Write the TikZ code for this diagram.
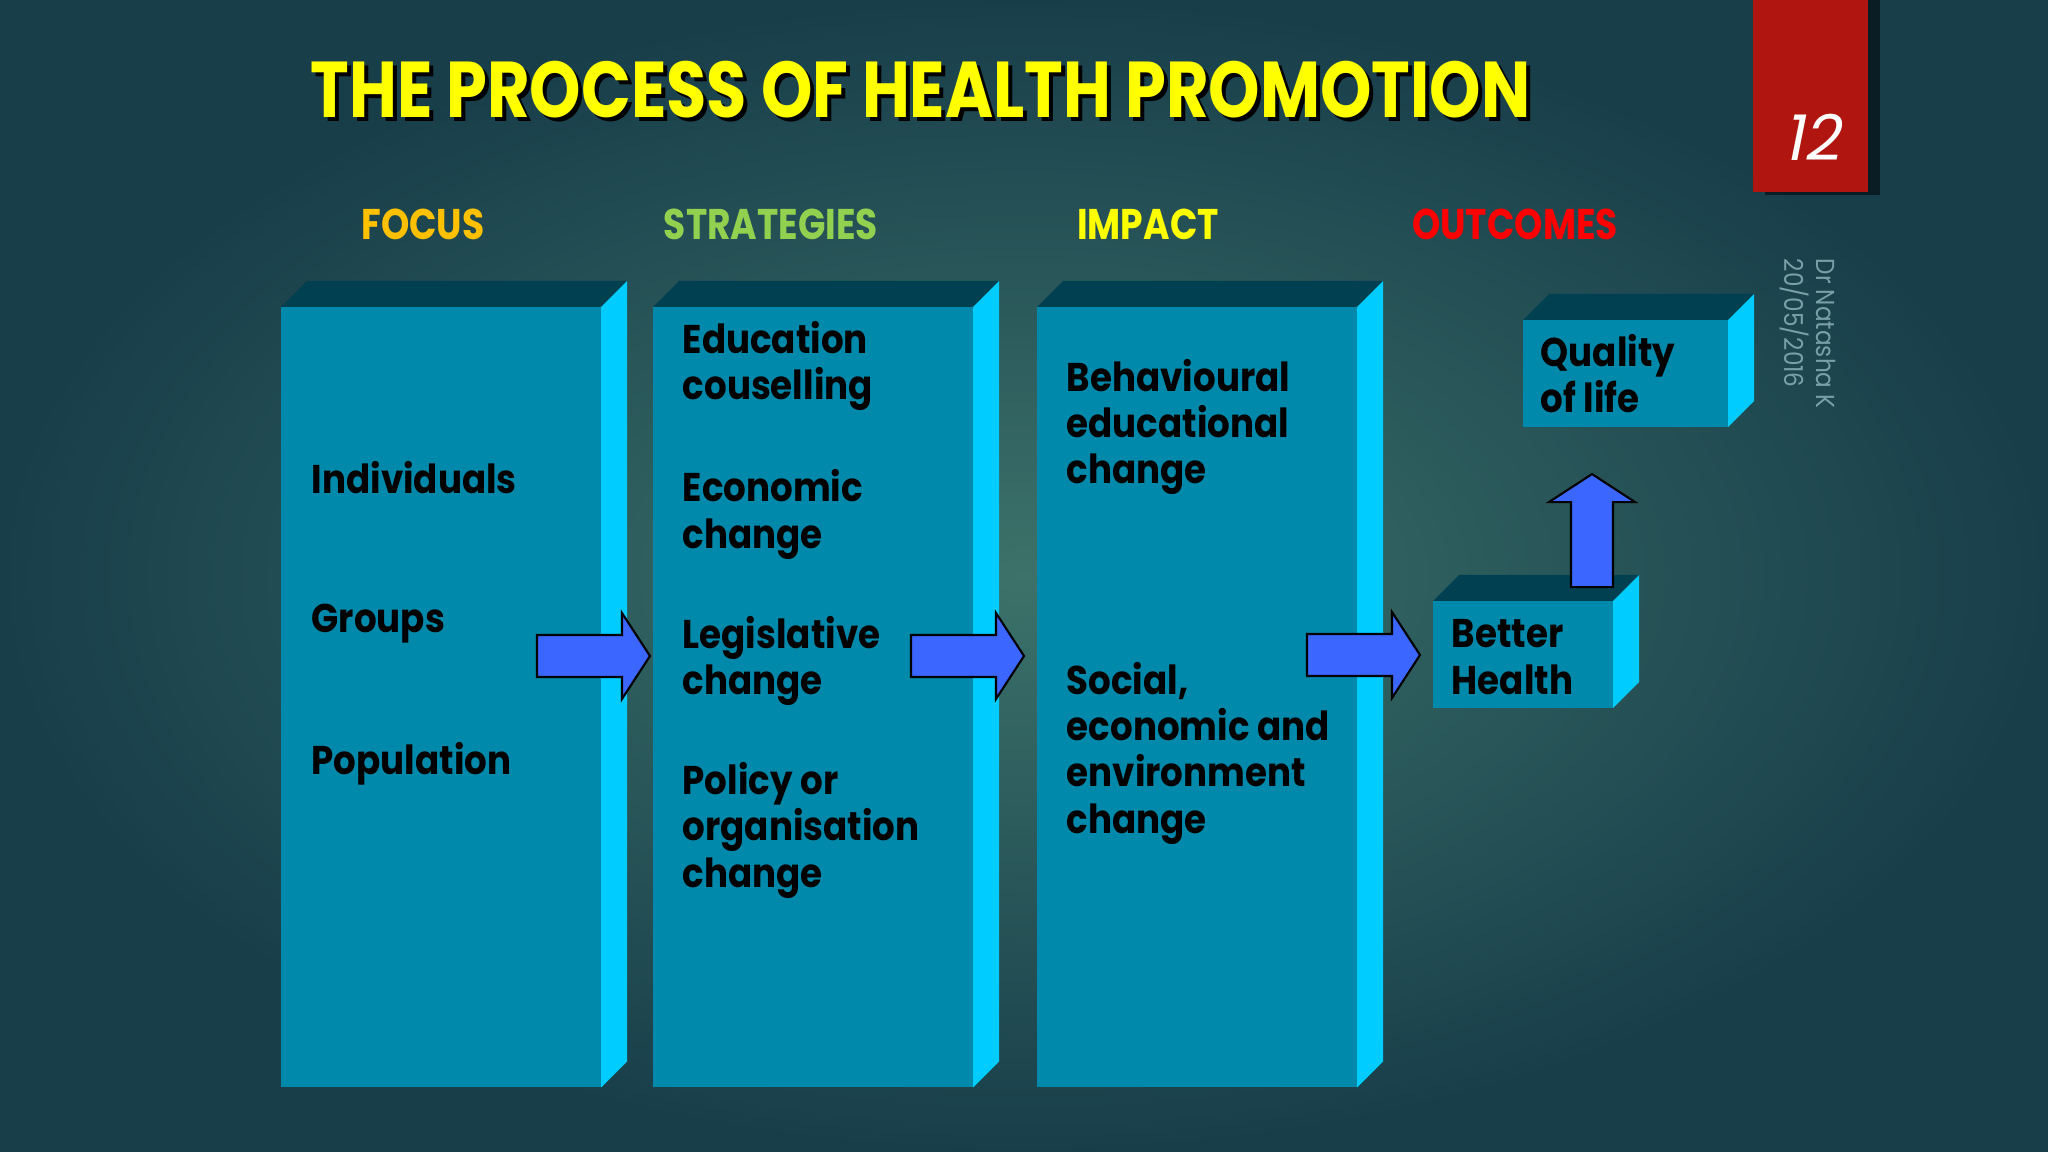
\documentclass[tikz,border=0pt]{standalone}
\usepackage{fontspec}
\setmainfont{Poppins}[FakeStretch=0.89]
\newfontfamily\titlefont{Poppins}[FakeStretch=0.827]
\newfontfamily\headfont{Poppins}[FakeStretch=0.84]
\newfontfamily\numfont{Poppins}[FakeSlant=0.2]
\usetikzlibrary{positioning,calc}
\definecolor{frontblue}{RGB}{0,137,170}
\definecolor{sideblue}{RGB}{0,204,255}
\definecolor{topblue}{RGB}{0,64,80}
\definecolor{arrowblue}{RGB}{59,102,255}
\definecolor{bgcentre}{RGB}{60,114,106}
\definecolor{bgedge}{RGB}{24,62,74}
\definecolor{pagered}{RGB}{176,22,15}
\definecolor{pageshadow}{RGB}{10,28,36}
\definecolor{focusgold}{RGB}{255,192,0}
\definecolor{stratgreen}{RGB}{146,208,80}
\definecolor{titleyellow}{RGB}{255,255,0}
\definecolor{outred}{RGB}{255,0,0}
\definecolor{dategrey}{RGB}{120,160,168}
\tikzset{
    front/.style ={
        shape=rectangle,
        fill=frontblue,
        inner sep=0pt,
        outer sep=0pt,
        anchor=north west
    },
    item/.style ={
        anchor=base west,
        align=left,
        inner sep=0pt,
        text=black,
        font=\fontsize{11.4}{13.1}\selectfont\bfseries
    },
    head/.style ={
        anchor=base,
        inner sep=0pt,
        font=\headfont\fontsize{12.2}{14}\selectfont\bfseries
    },
    blockarrow/.pic ={
        \draw[fill=arrowblue, line width=0.6pt, line join=miter]
            (0,0) -- (-28,-43) -- (-28,-21) -- (-113,-21)
            -- (-113,21) -- (-28,21) -- (-28,43) -- cycle;
    }
}
\newcommand{\boxsides}[1]{%
    \fill[topblue] (#1.north west) -- ++(26,-26)
        -- ($(#1.north east)+(26,-26)$) -- (#1.north east) -- cycle;
    \fill[sideblue] (#1.north east) -- ++(26,-26)
        -- ($(#1.south east)+(26,-26)$) -- (#1.south east) -- cycle;
}
\begin{document}
\begin{tikzpicture}[x=0.01cm, y=-0.01cm]
    \useasboundingbox (0,0) rectangle (2048,1152);
    \shade[inner color=bgcentre, outer color=bgedge] (0,0) rectangle (2048,1152);

    % page number and date
    \fill[pageshadow] (1765,0) rectangle (1880,195);
    \fill[pagered] (1753,0) rectangle (1868,192);
    \node[text=white, font=\numfont\fontsize{17.9}{20}\selectfont] (pagenum) at (1812,137) {12};
    \node[rotate=-90, anchor=north west, align=left, inner sep=0pt, text=dategrey,
        font=\fontsize{7.4}{8.9}\selectfont] (date) at (1836,258) {Dr Natasha K\\20/05/2016};

    % title
    \node[anchor=base west, inner sep=0pt, text=black,
        font=\titlefont\fontsize{22.5}{27}\selectfont\bfseries] (titleshadow) at (314,122)
        {THE PROCESS OF HEALTH PROMOTION};
    \node[anchor=base west, inner sep=0pt, text=titleyellow,
        font=\titlefont\fontsize{22.5}{27}\selectfont\bfseries] (title) at (310,118)
        {THE PROCESS OF HEALTH PROMOTION};

    % column heads
    \node[head, text=focusgold] (focus) at (423,240) {FOCUS};
    \node[head, text=stratgreen] (strategies) at (771,240) {STRATEGIES};
    \node[head, text=titleyellow] (impact) at (1148,240) {IMPACT};
    \node[head, text=outred] (outcomes) at (1515,240) {OUTCOMES};

    % boxes
    \node[front, minimum width=3.2cm, minimum height=7.8cm] (c1) at (281,307) {};
    \node[front, minimum width=3.2cm, minimum height=7.8cm] (c2) at (653,307) {};
    \node[front, minimum width=3.2cm, minimum height=7.8cm] (c3) at (1037,307) {};
    \node[front, minimum width=1.8cm, minimum height=1.07cm] (better) at (1433,601) {};
    \node[front, minimum width=2.05cm, minimum height=1.07cm] (quality) at (1523,320) {};
    \boxsides{c1}
    \boxsides{c2}
    \boxsides{c3}
    \boxsides{better}
    \boxsides{quality}

    % texts (base = last line)
    \node[item] (individuals) at (311,494) {Individuals};
    \node[item] (groups) at (311,633) {Groups};
    \node[item] (population) at (311,774) {Population};
    \node[item] (education) at (682,400) {Education\\couselling};
    \node[item] (economic) at (682,548) {Economic\\change};
    \node[item] (legislative) at (682,695) {Legislative\\change};
    \node[item] (policy) at (682,887) {Policy or\\organisation\\change};
    \node[item] (behavioural) at (1066,484) {Behavioural\\educational\\change};
    \node[item] (social) at (1066,833) {Social,\\economic and\\environment\\change};
    \node[item] (betterhealth) at (1451,694) {Better\\Health};
    \node[item] (qualitylife) at (1540,413) {Quality\\of life};

    % arrows
    \pic at ($(c2.west |- 0,656)+(-3,0)$) {blockarrow};
    \pic at ($(c3.west |- 0,656)+(-13,0)$) {blockarrow};
    \pic at ($(better.west |- 0,655)+(-13,0)$) {blockarrow};
    \pic[rotate=90] at ($(quality.south -| 1592,0)+(0,47)$) {blockarrow};
\end{tikzpicture}
\end{document}
